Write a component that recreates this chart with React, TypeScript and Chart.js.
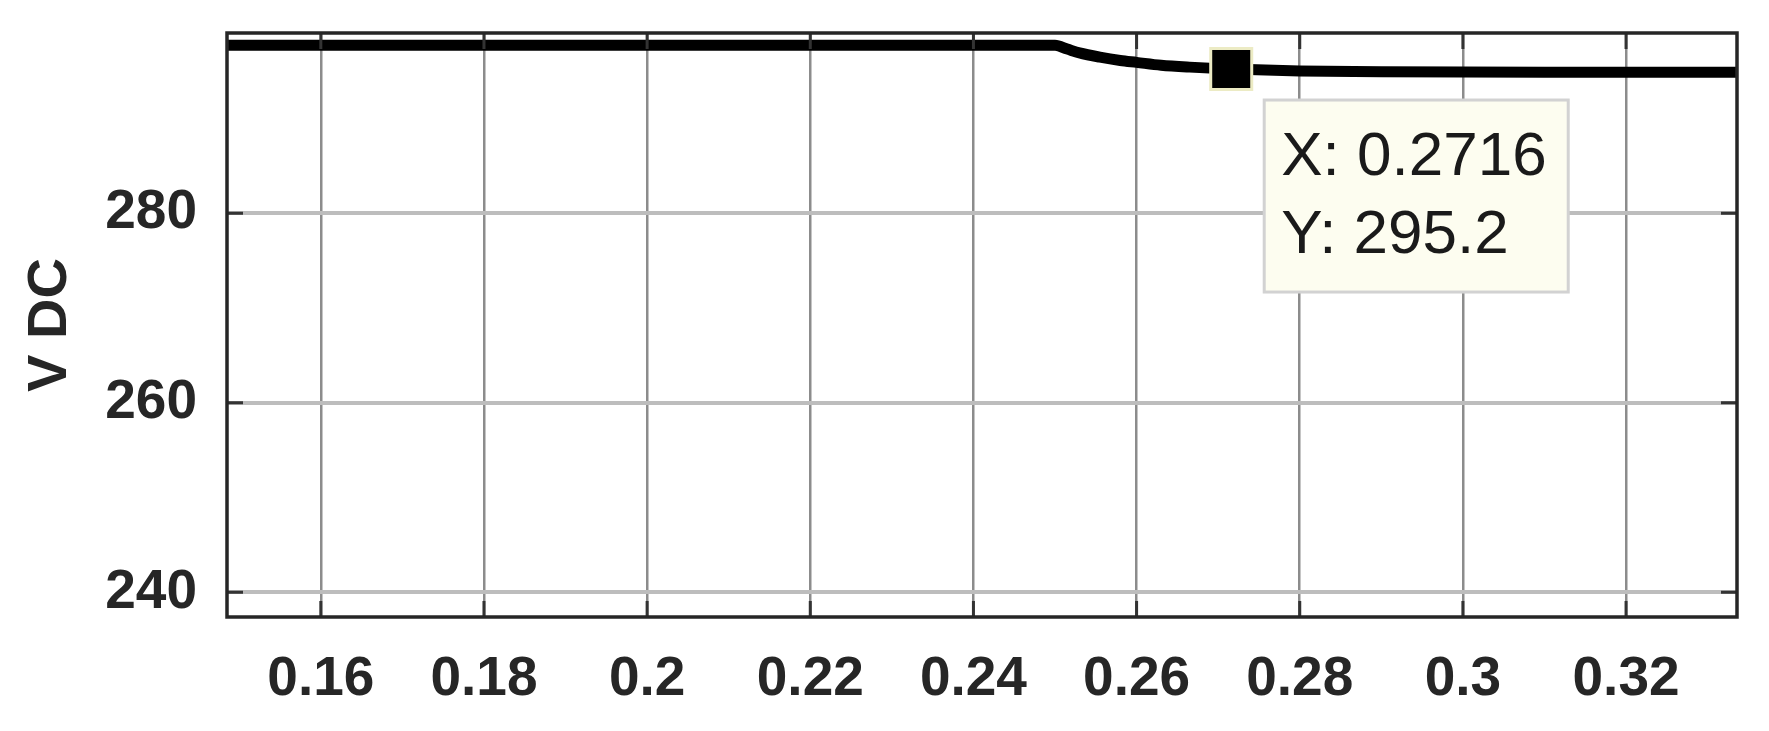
import React, { useEffect, useRef } from "react";
import { Chart, registerables } from "chart.js";

Chart.register(...registerables);

// ---- data ----
const timeValues = [0.1485, 0.2, 0.25, 0.2515, 0.253, 0.2555, 0.258, 0.26, 0.263, 0.2665, 0.2716, 0.28, 0.29, 0.31, 0.3336];
const vdcValues = [297.7, 297.7, 297.7, 297.3, 296.9, 296.45, 296.1, 295.9, 295.6, 295.4, 295.2, 295.0, 294.9, 294.85, 294.85];
const tipX = 0.2716;
const tipY = 295.2;
const xTickValues = [0.16, 0.18, 0.2, 0.22, 0.24, 0.26, 0.28, 0.3, 0.32];
const yTickValues = [240, 260, 280];
const yAxisTitle = "V DC";

const FONT = "'Liberation Sans', Arial, Helvetica, sans-serif";

const boxPlugin = {
  id: "matlabBox",
  afterDatasetsDraw(chart: any) {
    const { ctx, chartArea } = chart;
    const { left, right, top, bottom } = chartArea;
    ctx.save();
    ctx.strokeStyle = "#333333";
    ctx.lineWidth = 3;
    const tl = 16;
    const xs = chart.scales.x;
    const ys = chart.scales.y;
    xs.ticks.forEach((t: any) => {
      const px = xs.getPixelForValue(t.value);
      ctx.beginPath();
      ctx.moveTo(px, bottom);
      ctx.lineTo(px, bottom - tl);
      ctx.moveTo(px, top);
      ctx.lineTo(px, top + tl);
      ctx.stroke();
    });
    ys.ticks.forEach((t: any) => {
      const py = ys.getPixelForValue(t.value);
      ctx.beginPath();
      ctx.moveTo(left, py);
      ctx.lineTo(left + tl, py);
      ctx.moveTo(right, py);
      ctx.lineTo(right - tl, py);
      ctx.stroke();
    });
    ctx.strokeStyle = "#262626";
    ctx.lineWidth = 3.5;
    ctx.strokeRect(left, top, right - left, bottom - top);
    ctx.restore();
  },
};

const dataTipPlugin = {
  id: "dataTip",
  afterDraw(chart: any) {
    const { ctx } = chart;
    const el = chart.getDatasetMeta(0).data[0];
    if (!el) return;
    const cx = el.x;
    const cy = el.y;
    const bx = cx + 33;
    const by = cy + 31;
    const bw = 304;
    const bh = 192;
    ctx.save();
    ctx.fillStyle = "#fdfdf0";
    ctx.fillRect(bx, by, bw, bh);
    ctx.strokeStyle = "#d2d2d2";
    ctx.lineWidth = 3;
    ctx.strokeRect(bx, by, bw, bh);
    ctx.fillStyle = "#1a1a1a";
    ctx.font = `62px ${FONT}`;
    ctx.textAlign = "left";
    ctx.textBaseline = "middle";
    ctx.fillText(`X: ${tipX}`, bx + 17, by + 58);
    ctx.fillText(`Y: ${tipY}`, bx + 17, by + 136);
    ctx.restore();
  },
};

export default function App() {
  const canvasRef = useRef<HTMLCanvasElement | null>(null);

  useEffect(() => {
    if (!canvasRef.current) return;
    const chart = new Chart(canvasRef.current, {
      type: "scatter",
      data: {
        datasets: [
          {
            label: "tip",
            data: [{ x: tipX, y: tipY }],
            pointStyle: "rect",
            pointRadius: 29,
            pointHoverRadius: 29,
            backgroundColor: "#000000",
            borderColor: "#ecebc4",
            borderWidth: 3,
            showLine: false,
          },
          {
            label: "V DC",
            data: timeValues.map((t, i) => ({ x: t, y: vdcValues[i] })),
            showLine: true,
            borderColor: "#000000",
            borderWidth: 11,
            pointRadius: 0,
            pointHoverRadius: 0,
            fill: false,
            cubicInterpolationMode: "monotone",
          },
        ],
      },
      options: {
        animation: false,
        responsive: false,
        devicePixelRatio: 1,
        layout: { padding: { left: 0, top: 33, right: 30, bottom: 0 } },
        plugins: {
          legend: { display: false },
          tooltip: { enabled: false },
          title: { display: false },
        },
        events: [],
        scales: {
          x: {
            type: "linear",
            min: 0.1485,
            max: 0.3336,
            afterBuildTicks: (scale: any) => {
              scale.ticks = xTickValues.map((v) => ({ value: v }));
            },
            afterFit: (scale: any) => {
              scale.height = 114;
              scale.paddingLeft = 0;
              scale.paddingRight = 0;
            },
            grid: { color: "#8c8c8c", lineWidth: 2.5, drawTicks: false },
            border: { display: false },
            ticks: {
              padding: 30,
              color: "#262626",
              font: { family: FONT, size: 55, weight: "bold" },
              callback: (v: any) => String(v),
              maxRotation: 0,
              autoSkip: false,
            },
          },
          y: {
            type: "linear",
            min: 237.4,
            max: 299.0,
            afterBuildTicks: (scale: any) => {
              scale.ticks = yTickValues.map((v) => ({ value: v }));
            },
            afterFit: (scale: any) => {
              scale.width = 227;
              scale.paddingTop = 0;
              scale.paddingBottom = 0;
            },
            grid: { color: "#bdbdbd", lineWidth: 4, drawTicks: false },
            border: { display: false },
            ticks: {
              padding: 30,
              color: "#262626",
              font: { family: FONT, size: 55, weight: "bold" },
              callback: (v: any) => String(v),
              autoSkip: false,
            },
            title: {
              display: true,
              text: yAxisTitle,
              color: "#262626",
              font: { family: FONT, size: 56, weight: "bold" },
              padding: { top: 17, bottom: 0 },
            },
          },
        },
      },
      plugins: [boxPlugin, dataTipPlugin],
    } as any);
    return () => chart.destroy();
  }, []);

  return (
    <div
      style={{
        position: "fixed",
        left: 0,
        top: 0,
        width: 1769,
        height: 731,
        background: "#ffffff",
      }}
    >
      <canvas ref={canvasRef} width={1769} height={731} />
    </div>
  );
}
